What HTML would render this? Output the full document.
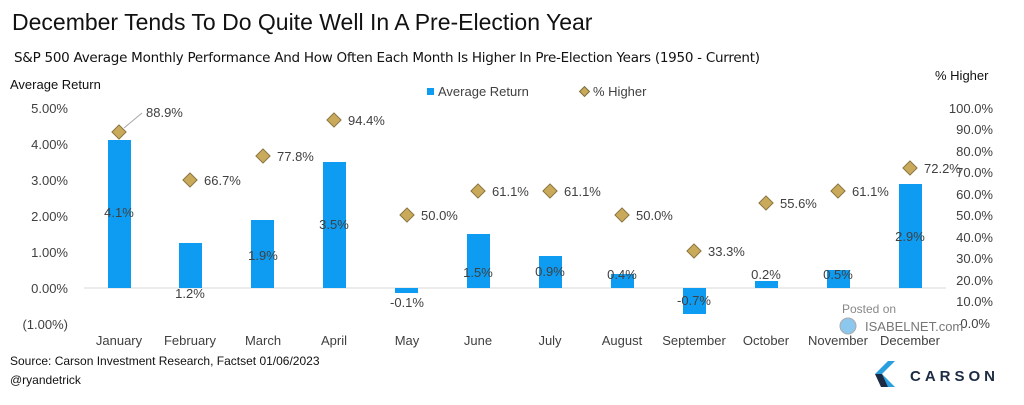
<!DOCTYPE html>
<html><head><meta charset="utf-8"><style>
body{margin:0;background:#fff;}
svg text{font-family:"Liberation Sans",sans-serif;fill:#404040;}
</style></head><body>
<svg width="1024" height="400" xmlns="http://www.w3.org/2000/svg">
<text x="12" y="30" font-size="23" fill="#111" style="fill:#111">December Tends To Do Quite Well In A Pre-Election Year</text>
<text x="14" y="62" font-size="13.5" style="fill:#111;font-family:'DejaVu Sans',sans-serif" textLength="746">S&amp;P 500 Average Monthly Performance And How Often Each Month Is Higher In Pre-Election Years (1950 - Current)</text>
<text x="10" y="89" font-size="13" style="fill:#111">Average Return</text>
<text x="935" y="80" font-size="13" style="fill:#111">% Higher</text>
<rect x="427" y="88" width="7" height="7" fill="#0d9cf2"/>
<text x="438" y="96" font-size="13">Average Return</text>
<rect x="581" y="88" width="7" height="7" fill="#c9a95a" stroke="#7a6a3a" transform="rotate(45 584.5 91.5)"/>
<text x="593" y="96" font-size="13">% Higher</text>
<g font-size="13" text-anchor="end">
<text x="68" y="113">5.00%</text><text x="68" y="149">4.00%</text><text x="68" y="185">3.00%</text><text x="68" y="221">2.00%</text><text x="68" y="257">1.00%</text><text x="68" y="293">0.00%</text><text x="68" y="329">(1.00%)</text>
</g>
<g font-size="13" text-anchor="end">
<text x="993" y="113">100.0%</text><text x="993" y="134">90.0%</text><text x="993" y="156">80.0%</text><text x="993" y="177">70.0%</text><text x="993" y="199">60.0%</text><text x="993" y="220">50.0%</text><text x="993" y="242">40.0%</text><text x="993" y="263">30.0%</text><text x="993" y="285">20.0%</text><text x="993" y="306">10.0%</text><text x="990" y="328">0.0%</text>
</g>
<line x1="84" y1="288" x2="946" y2="288" stroke="#d9d9d9" stroke-width="1"/>
<g fill="#0d9cf2">
<rect x="108" y="140" width="23" height="148"/>
<rect x="179" y="243" width="23" height="45"/>
<rect x="251" y="220" width="23" height="68"/>
<rect x="323" y="162" width="23" height="126"/>
<rect x="395" y="288" width="23" height="5"/>
<rect x="467" y="234" width="23" height="54"/>
<rect x="539" y="256" width="23" height="32"/>
<rect x="611" y="274" width="23" height="14"/>
<rect x="683" y="288" width="23" height="26"/>
<rect x="755" y="281" width="23" height="7"/>
<rect x="827" y="270" width="23" height="18"/>
<rect x="899" y="184" width="23" height="104"/>
</g>
<g font-size="13" text-anchor="middle">
<text x="119" y="217">4.1%</text><text x="190" y="298">1.2%</text><text x="263" y="260">1.9%</text><text x="334" y="229">3.5%</text><text x="407" y="307">-0.1%</text><text x="478" y="277">1.5%</text><text x="550" y="276">0.9%</text><text x="622" y="279">0.4%</text><text x="694" y="305">-0.7%</text><text x="766" y="279">0.2%</text><text x="838" y="279">0.5%</text><text x="910" y="241">2.9%</text>
</g>
<line x1="124" y1="128" x2="142" y2="113" stroke="#a6a6a6"/>
<g fill="#c9a95a" stroke="#8a7440" stroke-width="1">
<rect x="114" y="127" width="10" height="10" transform="rotate(45 119 132)"/>
<rect x="185" y="175" width="10" height="10" transform="rotate(45 190 180)"/>
<rect x="258" y="151" width="10" height="10" transform="rotate(45 263 156)"/>
<rect x="329" y="115" width="10" height="10" transform="rotate(45 334 120)"/>
<rect x="402" y="210" width="10" height="10" transform="rotate(45 407 215)"/>
<rect x="473" y="186" width="10" height="10" transform="rotate(45 478 191)"/>
<rect x="545" y="186" width="10" height="10" transform="rotate(45 550 191)"/>
<rect x="617" y="210" width="10" height="10" transform="rotate(45 622 215)"/>
<rect x="689" y="246" width="10" height="10" transform="rotate(45 694 251)"/>
<rect x="761" y="198" width="10" height="10" transform="rotate(45 766 203)"/>
<rect x="833" y="186" width="10" height="10" transform="rotate(45 838 191)"/>
<rect x="905" y="163" width="10" height="10" transform="rotate(45 910 168)"/>
</g>
<g font-size="13">
<text x="146" y="117">88.9%</text><text x="204" y="185">66.7%</text><text x="277" y="161">77.8%</text><text x="348" y="125">94.4%</text><text x="421" y="220">50.0%</text><text x="492" y="196">61.1%</text><text x="564" y="196">61.1%</text><text x="636" y="220">50.0%</text><text x="708" y="256">33.3%</text><text x="780" y="208">55.6%</text><text x="852" y="196">61.1%</text><text x="924" y="173">72.2%</text>
</g>
<g font-size="13" text-anchor="middle">
<text x="119" y="345">January</text><text x="190" y="345">February</text><text x="263" y="345">March</text><text x="334" y="345">April</text><text x="407" y="345">May</text><text x="478" y="345">June</text><text x="550" y="345">July</text><text x="622" y="345">August</text><text x="694" y="345">September</text><text x="766" y="345">October</text><text x="838" y="345">November</text><text x="910" y="345">December</text>
</g>
<text x="842" y="313" font-size="12" style="fill:#888">Posted on</text>
<circle cx="848" cy="326" r="8" fill="#8cc8ee" stroke="#aaa"/>
<text x="865" y="331" font-size="13" style="fill:#777">ISABELNET.com</text>
<text x="10" y="365" font-size="12" style="fill:#111">Source: Carson Investment Research, Factset 01/06/2023</text>
<text x="10" y="384" font-size="12" style="fill:#111">@ryandetrick</text>
<polygon points="888,361 875,374 888,387 895,387 882,374 895,361" fill="#2a9fe0"/>
<polygon points="875,374 882,374 888,387 881,387" fill="#1c2b44"/>
<text x="910" y="381" font-size="15" letter-spacing="4" style="fill:#1c2b44;font-weight:bold">CARSON</text>
</svg>
</body></html>
